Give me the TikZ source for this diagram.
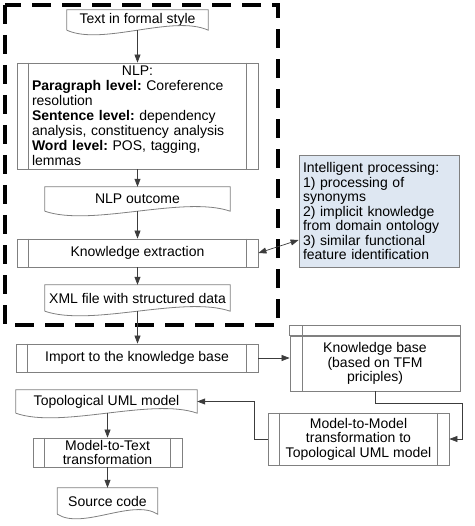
\documentclass[tikz,border=0pt]{standalone}
\usepackage{fontspec}
\setmainfont{Liberation Sans}
\usetikzlibrary{arrows.meta,calc}
\frenchspacing
\definecolor{boxgray}{RGB}{128,128,128}
\definecolor{linegray}{RGB}{60,60,60}
\definecolor{paleblue}{RGB}{222,231,242}
\tikzset{every node/.style={font=\fontsize{14}{14.5}\selectfont, inner sep=0pt},
 proc/.style={draw=boxgray, line width=0.8pt, align=center},
 docnode/.style={align=center},
 note/.style={draw=boxgray, fill=paleblue, line width=0.8pt, align=left, text width=152pt},
 flow/.style={draw=linegray, line width=0.7pt, -{Triangle[length=8pt,width=6pt]}},
 twoway/.style={flow, {Triangle[length=8pt,width=6pt]}-{Triangle[length=8pt,width=6pt]}},
 }

\begin{document}
\begin{tikzpicture}[x=1pt, y=-1pt]
        \useasboundingbox (0,0) rectangle (474,526);
        \draw [line width=3.2pt, dash pattern=on 19pt off 11pt] (5,5) rectangle (278,325);
        % left column
        \node [docnode, minimum width=141, minimum height=20] (txt) at (137.5,20) {Text in formal style};
        \node [proc, minimum width=241, minimum height=106, text width=211pt, align=left,
               font=\fontsize{14}{15}\selectfont] (nlp) at (137.5,116)
              {\makebox[211pt]{NLP:}\\ \textbf{Paragraph level:} Coreference\\ resolution\\
               \textbf{Sentence level:} dependency\\ analysis, constituency analysis\\
               \textbf{Word level:} POS, tagging,\\ lemmas};
        \node [docnode, minimum width=185, minimum height=24] (nlpout) at (137.5,199) {NLP outcome};
        \node [proc, minimum width=241, minimum height=28] (kex) at (137.5,253) {Knowledge extraction};
        \node [docnode, minimum width=185, minimum height=26] (xml) at (137.5,298) {XML file with structured data};
        \node [note, minimum width=160, minimum height=112] (intel) at (379,211)
              {Intelligent processing:\\ 1) processing of\\ synonyms\\ 2) implicit knowledge\\
               from domain ontology\\ 3) similar functional\\ feature identification};
        \node [proc, minimum width=242, minimum height=28] (imp) at (137,358) {Import to the knowledge base};
        \node [proc, minimum width=170, minimum height=55] (kb) at (375,363.5)
              {Knowledge base\\ (based on TFM\\ priciples)};
        \node [docnode, minimum width=181, minimum height=23] (topo) at (106.5,401.5) {Topological UML model};
        \node [proc, minimum width=181, minimum height=52] (m2m) at (358.5,439)
              {Model-to-Model\\ transformation to\\ Topological UML model};
        \node [proc, minimum width=149, minimum height=29, font=\fontsize{14}{13.5}\selectfont] (m2t) at (107.5,452.5)
              {Model-to-Text\\ transformation};
        \node [docnode, minimum width=100, minimum height=26] (src) at (107.5,501) {Source code};

        % document outlines with wavy bottom
        \foreach \n in {txt,nlpout,xml,topo,src}
            \draw [boxgray, line width=0.8pt] (\n.south west) -- (\n.north west) -- (\n.north east) -- (\n.south east)
                .. controls ($(\n.south)!0.5!(\n.south east)+(0,-16)$) and ($(\n.south)!0.5!(\n.south west)+(0,16)$) .. (\n.south west);
        % side bars of the process boxes
        \foreach \n in {nlp,kex,imp,m2m,m2t}
            \draw [boxgray, line width=0.8pt] ([xshift=12pt]\n.north west) -- ([xshift=12pt]\n.south west)
                ([xshift=-12pt]\n.north east) -- ([xshift=-12pt]\n.south east);
        % header strip of the knowledge base
        \draw [boxgray, line width=0.8pt] (kb.north west) rectangle ([yshift=10pt]kb.north east);
        \draw [boxgray, line width=0.8pt] ([xshift=13pt,yshift=10pt]kb.north west) -- ([xshift=13pt]kb.south west);

        % connectors
        \draw [flow] (txt.south) -- (nlp.north);
        \draw [flow] (nlp.south) -- (nlpout.north);
        \draw [flow] (nlpout.south) -- (kex.north);
        \draw [flow] (kex.south) -- (xml.north);
        \draw [flow] (xml.south) -- (imp.north -| xml.south);
        \draw [twoway] (kex.east) -- ([yshift=-29pt]intel.west);
        \draw [flow] (imp.east) -- (imp.east -| kb.west);
        \draw [flow] (kb.south) -- ++(0,12) -| ([xshift=13pt]m2m.east) -- (m2m.east);
        \draw [flow] (m2m.west) -- ++(-13,0) |- (topo.east);
        \draw [flow] (m2t.north |- topo.south) -- (m2t.north);
        \draw [flow] (m2t.south) -- (src.north);
    \end{tikzpicture}
\end{document}
